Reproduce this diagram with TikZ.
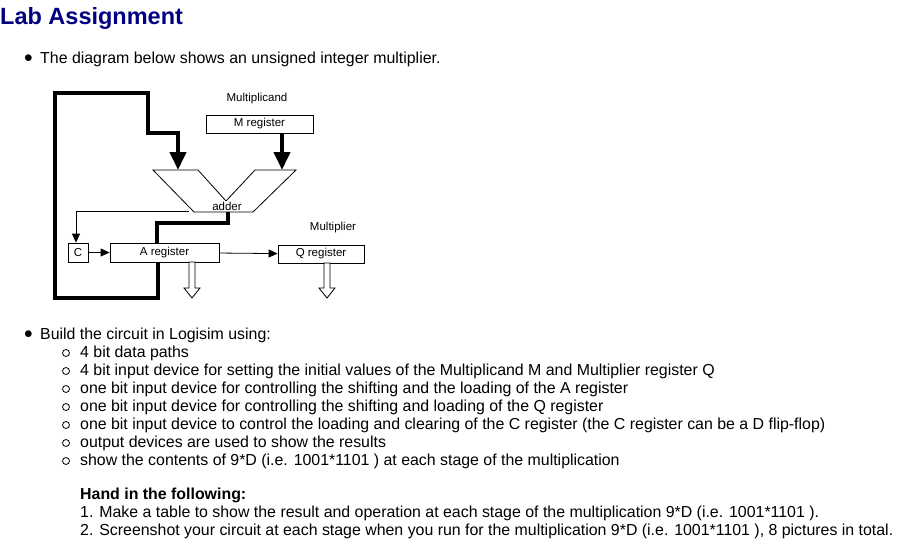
\documentclass[tikz,border=0pt]{standalone}
\usepackage{fontspec}
\setmainfont{Liberation Sans}
\usetikzlibrary{arrows.meta}
\definecolor{navy}{RGB}{0,0,128}
\begin{document}
\begin{tikzpicture}[x=1pt,y=-1pt,
  body/.style={anchor=west,inner sep=0,font=\fontsize{15.9}{16}\selectfont},
  dtext/.style={inner sep=0,font=\fontsize{11.5}{11.5}\selectfont},
  reg/.style={draw,line width=0.8pt,inner sep=0,minimum height=18},
  thick/.style={line width=4pt,line join=miter},
  thin/.style={line width=0.8pt},
  bigtip/.style={-{Triangle[length=18,width=16]}},
  smalltip/.style={-{Triangle[length=9,width=8]}},
  hollow/.style={draw,line width=0.8pt,fill=white}]
\useasboundingbox (0,0) rectangle (917,551);
\node[anchor=west,inner sep=0,font=\fontsize{23.5}{24}\selectfont\bfseries,text=navy] (title) at (0,18) {Lab Assignment};
\node[body] (b1d) at (24,59) {$\bullet$};
\node[body] (b1) at (40,59) {The diagram below shows an unsigned integer multiplier.};
% diagram
\node[reg,minimum width=107] (M) at (259.5,124) {};
\node[dtext] (Mt) at (M) {M register};
\node[dtext] (Mc) at (257,99) {Multiplicand};
\node[reg,minimum width=20,minimum height=19] (C) at (78,252.5) {};
\node[dtext] (Ct) at (C) {C};
\node[reg,minimum width=109,minimum height=19] (A) at (164.5,252.5) {};
\node[dtext] (At) at (A) {A register};
\node[reg,minimum width=86] (Q) at (321,254) {};
\node[dtext] (Qt) at (Q) {Q register};
\node[dtext] (Ml) at (333,228) {Multiplier};
% adder
\draw[thin] (153,170) -- (198,170) -- (226,201) -- (255,170) -- (296,170) -- (253,212) -- (194,212) -- cycle;
\node[dtext,fill=white,inner sep=1] (ad) at (227,206) {adder};
\coordinate (adl) at (189,211);
\coordinate (adb) at (228,212);
\coordinate (adt1) at (178,170);
\coordinate (adt2) at (282,170);
% connectors
\draw[thick] (A.south -| 158,0) -- (158,298) -- (55,298) -- (55,93) -- (148,93) -- (148,133) -- (178,133) -- (178,150);
\draw[thick,bigtip] (178,140) -- (adt1);
\draw[thick] (M.south -| adt2) -- (282,150);
\draw[thick,bigtip] (282,140) -- (adt2);
\draw[thick] (adb) -- (228,223) -- (157,223) -- (157,243);
\draw[thin,smalltip] (adl) -- (76,211) -- (C.north -| 76,0);
\draw[thin,smalltip] (C) -- (A);
\draw[thin,smalltip] (A) -- (Q);
\draw[hollow] (189,262)--(195,262)--(195,288)--(200,288)--(192,298)--(184,288)--(189,288)--cycle;
\draw[hollow] (324,263)--(330,263)--(330,288)--(335,288)--(327,298)--(319,288)--(324,288)--cycle;
% list
\node[body] (b2d) at (24,335) {$\bullet$};
\node[body] (b2) at (40,335) {Build the circuit in Logisim using:};
\foreach \y/\t [count=\i] in {353/4 bit data paths,
 371/4 bit input device for setting the initial values of the Multiplicand M and Multiplier register Q,
 389/one bit input device for controlling the shifting and the loading of the A register,
 407/one bit input device for controlling the shifting and loading of the Q register,
 425/one bit input device to control the loading and clearing of the C register (the C register can be a D flip-flop),
 443/output devices are used to show the results,
 461/show the contents of 9*D (i.e. 1001*1101 ) at each stage of the multiplication}{
 \node[draw,circle,line width=0.8pt,minimum size=7,inner sep=0] (c\i) at (66,\y) {};
 \node[body] (s\i) at (80,\y) {\t};
}
\node[body,font=\fontsize{15.9}{16}\selectfont\bfseries] (h) at (80,495) {Hand in the following:};
\node[body] (n1) at (80,513) {1. Make a table to show the result and operation at each stage of the multiplication 9*D (i.e. 1001*1101 ).};
\node[body] (n2) at (80,531) {2. Screenshot your circuit at each stage when you run for the multiplication 9*D (i.e. 1001*1101 ), 8 pictures in total.};
\end{tikzpicture}
\end{document}
